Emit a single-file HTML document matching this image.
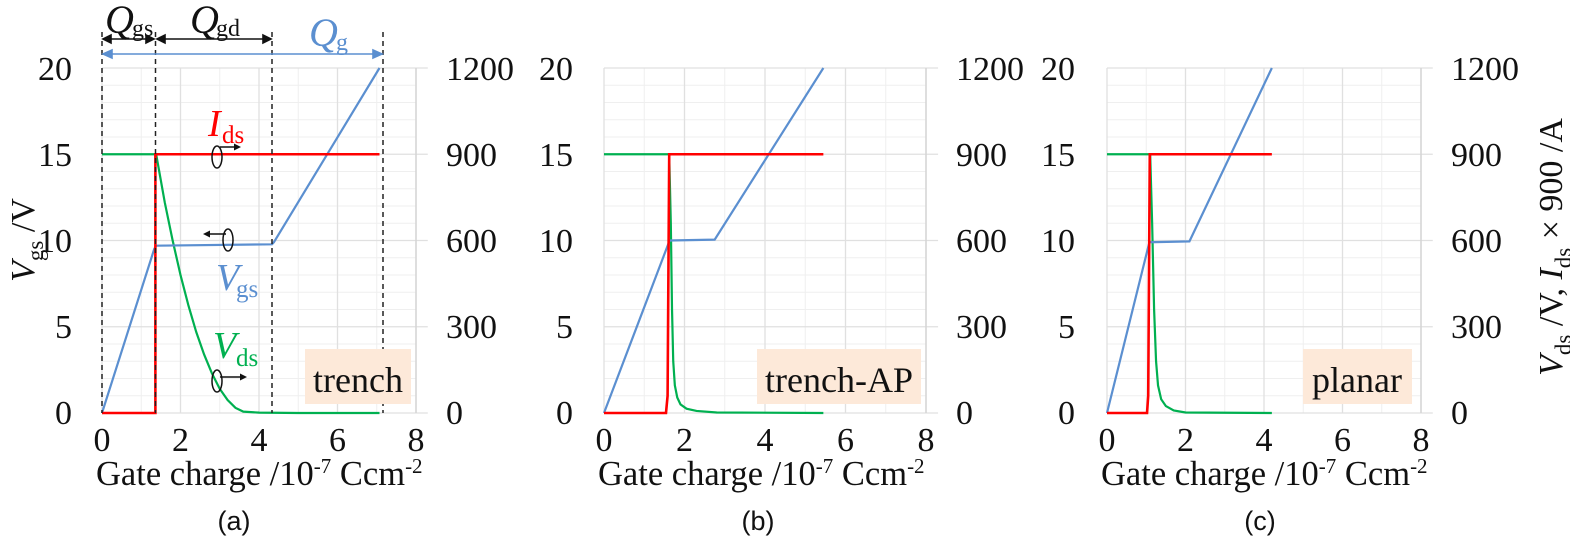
<!DOCTYPE html>
<html><head><meta charset="utf-8"><style>
html,body{margin:0;padding:0;background:#fff}
svg{display:block}
text{font-family:"Liberation Serif",serif}
.t{font-size:34px;fill:#111}
.ax{font-size:34.5px;fill:#111}
.cap{font-family:"Liberation Sans",sans-serif;font-size:27px;fill:#111}
</style></head><body>
<svg width="1570" height="550" viewBox="0 0 1570 550" xmlns="http://www.w3.org/2000/svg">
<defs>
<g id="grid">
  <path vector-effect="non-scaling-stroke" stroke="#efefef" stroke-width="1" fill="none" d="M1 0V20M3 0V20M5 0V20M7 0V20M0 1H8M0 2H8M0 3H8M0 4H8M0 6H8M0 7H8M0 8H8M0 9H8M0 11H8M0 12H8M0 13H8M0 14H8M0 16H8M0 17H8M0 18H8M0 19H8"/>
  <path vector-effect="non-scaling-stroke" stroke="#e0e0e0" stroke-width="1.3" fill="none" d="M0 0V20M2 0V20M4 0V20M6 0V20M0 5H8.3M0 10H8.3M0 15H8.3M0 20H8.3M0 0H8.3"/>
  <path vector-effect="non-scaling-stroke" stroke="#d4d4d4" stroke-width="1.5" fill="none" d="M8 0V20"/>
</g>
</defs>

<!-- Panel a -->
<g transform="translate(102,413) scale(39.25,-17.25)">
  <use href="#grid"/>
  <g fill="none" stroke-width="2.2">
    <path vector-effect="non-scaling-stroke" stroke="#00b050" d="M0 15H1.38L1.6 12.2 1.8 10 2 8 2.2 6.25 2.4 4.7 2.6 3.4 2.8 2.3 3 1.4 3.2 0.75 3.4 0.3 3.6 0.08 4 0.02 5 0 7.07 0"/>
    <path vector-effect="non-scaling-stroke" stroke="#5b8fd0" d="M0 0L1.33 9.5 1.38 9.7 4.33 9.78 4.38 9.9 7.07 20"/>
    <path vector-effect="non-scaling-stroke" stroke="#ff0000" stroke-width="2.6" d="M0 0H1.36V15H7.07"/>
  </g>
</g>
<g stroke="#222" stroke-width="1.5" stroke-dasharray="5,4" fill="none">
  <path d="M102 32V413M155.5 32V413M272 32V413M383 32V413"/>
</g>
<g stroke="#111" stroke-width="1.6" fill="#111">
  <path d="M106 39H151M159 39H268" fill="none"/>
  <path d="M103 39l8-4v8zM154 39l-8-4v8zM157 39l8-4v8zM271 39l-8-4v8z"/>
</g>
<g stroke="#5b8fd0" stroke-width="1.6" fill="#5b8fd0">
  <path d="M106 54H379" fill="none"/>
  <path d="M103 54l9-4v8zM382 54l-9-4v8z"/>
</g>
<text x="105" y="33" font-size="40" font-style="italic" fill="#111">Q</text><text x="132" y="36" font-size="24" fill="#111">gs</text>
<text x="190" y="33" font-size="40" font-style="italic" fill="#111">Q</text><text x="216" y="36" font-size="24" fill="#111">gd</text>
<text x="309" y="46" font-size="40" font-style="italic" fill="#5b8fd0">Q</text><text x="336" y="50" font-size="24" fill="#5b8fd0">g</text>
<text x="208" y="136" font-size="38" font-style="italic" fill="#ff0000">I</text><text x="222" y="143" font-size="25" fill="#ff0000">ds</text>
<text x="213" y="358" font-size="38" font-style="italic" fill="#00b050">V</text><text x="236" y="366" font-size="25" fill="#00b050">ds</text>
<text x="216" y="290" font-size="38" font-style="italic" fill="#5b8fd0">V</text><text x="236" y="297" font-size="25" fill="#5b8fd0">gs</text>
<g stroke="#111" stroke-width="1.5" fill="none">
  <ellipse cx="217" cy="157" rx="5" ry="11"/><path d="M220 147H236"/>
  <ellipse cx="228" cy="240" rx="5" ry="11"/><path d="M226 234H208"/>
  <ellipse cx="217" cy="381" rx="5" ry="11"/><path d="M220 377H242"/>
</g>
<g fill="#111"><path d="M241 147l-7-3.5v7zM203 234l7-3.5v7zM247 377l-7-3.5v7z"/></g>
<rect x="305" y="349" width="106" height="55" fill="#fde9d9"/>
<text x="358" y="392" text-anchor="middle" font-size="36" fill="#111">trench</text>
<g class="t" text-anchor="end"><text x="72" y="80">20</text><text x="72" y="166">15</text><text x="72" y="252">10</text><text x="72" y="338">5</text><text x="72" y="424">0</text></g>
<g class="t"><text x="446" y="80">1200</text><text x="446" y="166">900</text><text x="446" y="252">600</text><text x="446" y="338">300</text><text x="446" y="424">0</text></g>
<g class="t" text-anchor="middle"><text x="102" y="451">0</text><text x="180.5" y="451">2</text><text x="259" y="451">4</text><text x="337.5" y="451">6</text><text x="416" y="451">8</text></g>
<text x="96" y="485" class="ax">Gate charge /10<tspan font-size="21" dy="-12">-7</tspan><tspan dy="12"> Ccm</tspan><tspan font-size="21" dy="-12">-2</tspan></text>
<text x="234" y="530" class="cap" text-anchor="middle">(a)</text>

<!-- Panel b -->
<g transform="translate(604,413) scale(40.25,-17.25)">
  <use href="#grid"/>
  <g fill="none" stroke-width="2.2">
    <path vector-effect="non-scaling-stroke" stroke="#00b050" d="M0 15H1.62L1.66 11 1.69 6 1.72 3 1.76 1.6 1.82 0.9 1.9 0.5 2.05 0.25 2.3 0.12 2.8 0.03 5.45 0"/>
    <path vector-effect="non-scaling-stroke" stroke="#5b8fd0" d="M0 0L1.63 10 2.75 10.05 5.45 20"/>
    <path vector-effect="non-scaling-stroke" stroke="#ff0000" stroke-width="2.6" d="M0 0H1.54L1.58 1 1.62 15H5.45"/>
  </g>
</g>
<rect x="757" y="349" width="164" height="55" fill="#fde9d9"/>
<text x="839" y="392" text-anchor="middle" font-size="36" fill="#111">trench-AP</text>
<g class="t" text-anchor="end"><text x="573" y="80">20</text><text x="573" y="166">15</text><text x="573" y="252">10</text><text x="573" y="338">5</text><text x="573" y="424">0</text></g>
<g class="t"><text x="956" y="80">1200</text><text x="956" y="166">900</text><text x="956" y="252">600</text><text x="956" y="338">300</text><text x="956" y="424">0</text></g>
<g class="t" text-anchor="middle"><text x="604" y="451">0</text><text x="684.5" y="451">2</text><text x="765" y="451">4</text><text x="845.5" y="451">6</text><text x="926" y="451">8</text></g>
<text x="598" y="485" class="ax">Gate charge /10<tspan font-size="21" dy="-12">-7</tspan><tspan dy="12"> Ccm</tspan><tspan font-size="21" dy="-12">-2</tspan></text>
<text x="758" y="530" class="cap" text-anchor="middle">(b)</text>

<!-- Panel c -->
<g transform="translate(1107,413) scale(39.25,-17.25)">
  <use href="#grid"/>
  <g fill="none" stroke-width="2.2">
    <path vector-effect="non-scaling-stroke" stroke="#00b050" d="M0 15H1.1L1.15 11 1.2 6 1.25 3 1.3 1.6 1.38 0.8 1.5 0.4 1.7 0.15 2 0.03 4.2 0"/>
    <path vector-effect="non-scaling-stroke" stroke="#5b8fd0" d="M0 0L1.08 9.9 2.1 9.95 4.2 20"/>
    <path vector-effect="non-scaling-stroke" stroke="#ff0000" stroke-width="2.6" d="M0 0H1.02L1.05 1 1.09 15H4.2"/>
  </g>
</g>
<rect x="1303" y="349" width="109" height="55" fill="#fde9d9"/>
<text x="1357" y="392" text-anchor="middle" font-size="36" fill="#111">planar</text>
<g class="t" text-anchor="end"><text x="1075" y="80">20</text><text x="1075" y="166">15</text><text x="1075" y="252">10</text><text x="1075" y="338">5</text><text x="1075" y="424">0</text></g>
<g class="t"><text x="1451" y="80">1200</text><text x="1451" y="166">900</text><text x="1451" y="252">600</text><text x="1451" y="338">300</text><text x="1451" y="424">0</text></g>
<g class="t" text-anchor="middle"><text x="1107" y="451">0</text><text x="1185.5" y="451">2</text><text x="1264" y="451">4</text><text x="1342.5" y="451">6</text><text x="1421" y="451">8</text></g>
<text x="1101" y="485" class="ax">Gate charge /10<tspan font-size="21" dy="-12">-7</tspan><tspan dy="12"> Ccm</tspan><tspan font-size="21" dy="-12">-2</tspan></text>
<text x="1260" y="530" class="cap" text-anchor="middle">(c)</text>

<!-- axis titles -->
<text transform="translate(34,240) rotate(-90)" text-anchor="middle" font-size="34" fill="#111"><tspan font-style="italic">V</tspan><tspan font-size="23" dy="9">gs</tspan><tspan dy="-9"> /V</tspan></text>
<text transform="translate(1562,247) rotate(-90)" text-anchor="middle" font-size="34" fill="#111"><tspan font-style="italic">V</tspan><tspan font-size="23" dy="9">ds</tspan><tspan dy="-9"> /V, </tspan><tspan font-style="italic">I</tspan><tspan font-size="23" dy="9">ds</tspan><tspan dy="-9"> × 900 /A</tspan></text>
</svg>
</body></html>
